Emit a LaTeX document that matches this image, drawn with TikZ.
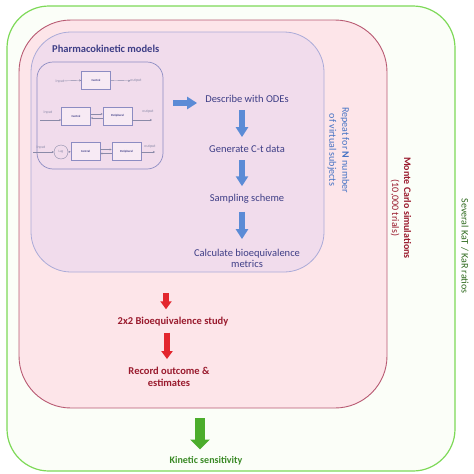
\documentclass[tikz,border=0pt]{standalone}
\usepackage{fontspec}
\setmainfont{Carlito}
\usetikzlibrary{arrows.meta}
\definecolor{gline}{HTML}{7DD957}
\definecolor{gfill}{HTML}{FBFEF8}
\definecolor{rline}{HTML}{B85A72}
\definecolor{rfill}{HTML}{FDE5E9}
\definecolor{pline}{HTML}{ABABD8}
\definecolor{pfill}{HTML}{F1DCEC}
\definecolor{mline}{HTML}{8C8CC2}
\definecolor{navy}{HTML}{3E3E86}
\definecolor{bluetxt}{HTML}{4472C4}
\definecolor{redtxt}{HTML}{9A1B2E}
\definecolor{greentxt}{HTML}{3A8A26}
\definecolor{sevtxt}{HTML}{2F6A1F}
\definecolor{barr}{HTML}{5B8BD6}
\definecolor{rarr}{HTML}{E3262E}
\definecolor{garr}{HTML}{4CAD2C}
\definecolor{smalltxt}{HTML}{8A8AA8}
\begin{document}
\begin{tikzpicture}[x=1pt,y=-1pt,
  txt/.style={inner sep=0pt,font=\fontsize{10.5}{11}\selectfont,align=center},
  navytxt/.style={txt,text=navy},
  redt/.style={txt,text=redtxt,font=\fontsize{10.5}{12}\selectfont\bfseries},
  blueflow/.style={draw=barr,line width=6pt,-{Triangle[length=10pt,width=12pt]}},
  redflow/.style={draw=rarr,line width=5.5pt,-{Triangle[length=8pt,width=11pt]}},
  greenflow/.style={draw=garr,line width=10pt,-{Triangle[length=10pt,width=19pt]}},
  mbox/.style={draw=mline,line width=0.6pt,fill=pfill!60!white,inner sep=0pt,minimum width=29pt,minimum height=18pt,font=\fontsize{3}{3}\selectfont\bfseries,text=navy},
  mtxt/.style={inner sep=0pt,font=\fontsize{4}{4}\selectfont,text=smalltxt},
  marr/.style={draw=smalltxt,line width=0.4pt,-{Stealth[length=2pt,width=2pt]}}
]
\useasboundingbox (0,0) rectangle (474,474);
% containers
\draw[draw=gline,fill=gfill,line width=1.2pt,rounded corners=42pt] (7,6) rectangle (455,471);
\draw[draw=rline,fill=rfill,line width=0.9pt,rounded corners=52pt] (19,20) rectangle (387,408);
\draw[draw=pline,fill=pfill,line width=0.8pt,rounded corners=40pt] (31,32) rectangle (324,272);
\node[draw=mline,line width=0.7pt,rounded corners=16pt,minimum width=126pt,minimum height=107pt,inner sep=0pt] (models) at (100,115.5) {};

% title
\node[txt,text=navy,font=\fontsize{10.5}{11}\selectfont\bfseries,anchor=west] (pkm) at (52,49) {Pharmacokinetic models};

% model sketches
% row 1
\node[mbox] (c1) at (96,80) {Central};
\node[mtxt] (in1) at (60,81) {input};
\node[mtxt] (out1) at (136,81) {output};
\draw[marr] (in1) -- (c1);
\draw[marr] (c1) -- (out1);
% row 2
\node[mbox] (c2) at (76,116) {Central};
\node[mbox] (p2) at (117.5,116) {Peripheral};
\node[mtxt] (in2) at (48,112) {input};
\node[mtxt] (out2) at (148,112) {output};
\coordinate (i2s) at (40,120);
\coordinate (o2e) at (152,120);
\draw[marr] (i2s) -- (i2s -| c2.west);
\draw[marr] ([yshift=2pt]c2.east) -- ([yshift=2pt]p2.west);
\draw[marr] ([yshift=-2pt]p2.west) -- ([yshift=-2pt]c2.east);
\draw[marr] (o2e -| p2.east) -- (o2e);
% row 3
\node[mbox] (c3) at (85.5,151.5) {Central};
\node[mbox] (p3) at (126.5,151.5) {Peripheral};
\node[draw=smalltxt,line width=0.4pt,circle,minimum size=14pt,inner sep=0pt,font=\fontsize{3.5}{3.5}\selectfont,text=smalltxt] (lag) at (61,152) {Lag};
\node[mtxt] (in3) at (41,147) {input};
\node[mtxt] (out3) at (150,147) {output};
\coordinate (i3s) at (33,152);
\coordinate (o3e) at (155,152);
\draw[marr] (i3s) -- (lag);
\draw[marr] (lag) -- (c3);
\draw[marr] ([yshift=2pt]c3.east) -- ([yshift=2pt]p3.west);
\draw[marr] ([yshift=-2pt]p3.west) -- ([yshift=-2pt]c3.east);
\draw[marr] (o3e -| p3.east) -- (o3e);

% flow texts
\node[navytxt] (ode) at (247,99) {Describe with ODEs};
\node[navytxt] (ct) at (247,149) {Generate C-t data};
\node[navytxt] (samp) at (247,199) {Sampling scheme};
\node[navytxt] (calc) at (247,258.5) {Calculate bioequivalence\\metrics};

\coordinate (ra) at (173,103);
\draw[blueflow] (ra) -- (ra -| ode.west) [shorten >=8pt];
\draw[blueflow,shorten <=7pt,shorten >=8pt] (ode.south -| 242,0) -- (ct.north -| 242,0);
\draw[blueflow,shorten <=7pt,shorten >=8pt] (ct.south -| 242,0) -- (samp.north -| 242,0);
\draw[blueflow,shorten <=8pt,shorten >=10pt] (samp.south -| 242,0) -- (calc.north -| 242,0);

% rotated labels
\node[txt,text=bluetxt,rotate=-90,font=\fontsize{10}{13}\selectfont] (rep) at (338.5,150) {Repeat for \textbf{N} number\\of virtual subjects};
\node[txt,text=redtxt,rotate=-90,font=\fontsize{10}{12}\selectfont] (mc) at (401,208) {\textbf{Monte Carlo simulations}\\(10,000 trials)};
\node[txt,text=sevtxt,rotate=-90,font=\fontsize{10}{12}\selectfont] (sev) at (465,246) {Several KaT / KaR ratios};

% red part
\node[redt] (be) at (173,322) {2x2 Bioequivalence study};
\node[redt] (rec) at (169,377) {Record outcome \&\\estimates};
\coordinate (r1) at (166,293);
\draw[redflow,shorten >=8pt] (r1) -- (r1 |- be.north);
\draw[redflow,shorten <=6pt,shorten >=8pt] (be.south -| 167,0) -- (rec.north -| 167,0);

% green part
\node[txt,text=greentxt,font=\fontsize{10}{11}\selectfont\bfseries] (kin) at (206,461) {Kinetic sensitivity};
\coordinate (g1) at (200,418);
\draw[greenflow,shorten >=7pt] (g1) -- (g1 |- kin.north);
\end{tikzpicture}
\end{document}
